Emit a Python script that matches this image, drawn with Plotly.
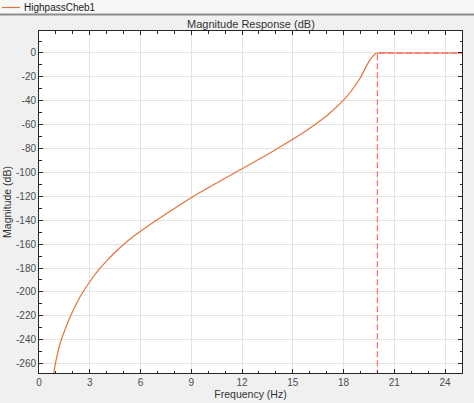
import plotly.graph_objects as go

# ---- data ----
freq_hz = [0.85, 0.9, 1.0, 1.25, 1.5, 1.75, 2.0, 2.5, 3.0, 3.5, 4.0, 4.5, 5.0, 5.5, 6.0,
           7.0, 8.0, 9.0, 10.0, 11.0, 12.0, 13.0, 14.0, 15.0, 16.0, 17.0, 18.0, 18.5,
           19.0, 19.5, 19.8, 19.9, 20.0, 21.0, 22.0, 23.0, 24.0, 25.0]
mag_db = [-270, -265.5, -258, -243, -233, -224, -216, -202.4, -191.5, -182, -174, -166.8,
          -160.3, -154.5, -149.3, -139.5, -130.2, -121.2, -112.9, -104.9, -97, -89,
          -80.8, -72.3, -63, -52.5, -39.5, -31, -20.5, -7, -1.6, -0.5, 0, 0, 0, 0, 0, 0]
mask_x = [20, 20, 25]
mask_y = [-300, 0, 0]

x_ticks = [0, 3, 6, 9, 12, 15, 18, 21, 24]
y_ticks = [0, -20, -40, -60, -80, -100, -120, -140, -160, -180, -200, -220, -240, -260]

title_text = "Magnitude Response (dB)"
x_title = "Frequency (Hz)"
y_title = "Magnitude (dB)"
legend_name = "HighpassCheb1"

FONT = "Liberation Sans, Arial, sans-serif"
curve_color = "#E2743A"
mask_color = "#FF6F6F"

fig = go.Figure()
fig.add_trace(go.Scatter(x=freq_hz, y=mag_db, mode="lines", name=legend_name,
                         line=dict(color=curve_color, width=1.2, shape="spline", smoothing=0.8),
                         showlegend=False))
fig.add_trace(go.Scatter(x=mask_x, y=mask_y, mode="lines", name="mask",
                         line=dict(color=mask_color, width=1.3, dash="6px,3px"),
                         showlegend=False))

axis_common = dict(
    showline=True, linecolor="#262626", linewidth=1, mirror="allticks",
    ticks="inside", ticklen=4, tickcolor="#262626", tickwidth=1,
    showgrid=True, gridcolor="#E3E3E3", gridwidth=1, zeroline=False,
    automargin=False,
    tickfont=dict(family=FONT, size=10, color="#4D4D4D"),
)

fig.update_xaxes(range=[0, 25], tickmode="array", tickvals=x_ticks,
                 ticktext=[str(v) for v in x_ticks],
                 minor=dict(dtick=1, tick0=0, ticks="inside", ticklen=2.5,
                            tickcolor="#262626", showgrid=False),
                 title=dict(text=x_title, font=dict(family=FONT, size=10.5, color="#333333"),
                            standoff=3),
                 **axis_common)
fig.update_yaxes(range=[-267.9, 18.4], tickmode="array", tickvals=y_ticks,
                 ticktext=[str(v) for v in y_ticks],
                 minor=dict(dtick=10, tick0=0, ticks="inside", ticklen=2.5,
                            tickcolor="#262626", showgrid=False),
                 title=dict(text=y_title, font=dict(family=FONT, size=10.5, color="#333333"),
                            standoff=2),
                 **axis_common)

W, H = 474, 403
L, R, T, B = 39, 12, 31, 30
ph = H - T - B
pw = W - L - R

def py(pix):
    return (H - B - pix) / ph

def px(pix):
    return (pix - L) / pw

fig.update_layout(
    width=W, height=H,
    margin=dict(l=L, r=R, t=T, b=B, pad=0),
    paper_bgcolor="#F0F0F0", plot_bgcolor="#FFFFFF",
    font=dict(family=FONT, size=10, color="#333333"),
    showlegend=False,
    shapes=[
        dict(type="rect", xref="paper", yref="paper", x0=px(0), x1=px(W), y0=py(14), y1=py(0),
             fillcolor="#F7F7F7", line=dict(width=0), layer="below"),
        dict(type="line", xref="paper", yref="paper", x0=px(0), x1=px(W), y0=py(14.5), y1=py(14.5),
             line=dict(color="#8C8C8C", width=2)),
        dict(type="line", xref="paper", yref="paper", x0=px(2), x1=px(20), y0=py(7.5), y1=py(7.5),
             line=dict(color=curve_color, width=1.2)),
    ],
    annotations=[
        dict(text=legend_name, xref="paper", yref="paper", x=px(22), y=py(7.5),
             xanchor="left", yanchor="middle", showarrow=False,
             font=dict(family=FONT, size=10, color="#1A1A1A")),
        dict(text=title_text, xref="paper", yref="paper", x=0.5, y=py(24),
             xanchor="center", yanchor="middle", showarrow=False,
             font=dict(family=FONT, size=11, color="#333333")),
    ],
)

fig.write_html("out.html")
